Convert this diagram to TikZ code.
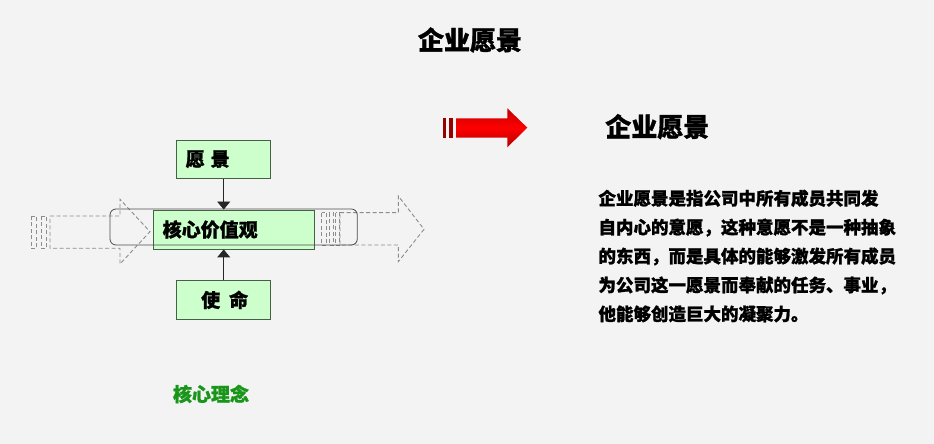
\documentclass[tikz,border=0pt]{standalone}
\usepackage{fontspec}
\setmainfont{Noto Sans CJK SC}[BoldFeatures={FakeBold=1.2}]
\usetikzlibrary{arrows.meta}
\definecolor{bgc}{RGB}{243,243,243}
\definecolor{boxfill}{RGB}{204,255,204}
\definecolor{boxline}{RGB}{70,95,70}
\definecolor{dashc}{RGB}{140,140,140}
\definecolor{greentxt}{RGB}{25,150,25}
\definecolor{darkred}{RGB}{150,0,0}
\tikzset{
  greenbox/.style={draw=boxline, line width=0.9bp, fill=boxfill, inner sep=0pt, font=\fontsize{19bp}{22bp}\selectfont\bfseries},
  conn/.style={draw=black!85, line width=0.9bp, -{Triangle[width=13bp,length=8bp]}},
  dasharrow/.style={draw=dashc, line width=0.9bp, dash pattern=on 4bp off 2.5bp},
  txt/.style={inner sep=0pt, font=\bfseries}
}
\begin{document}
\begin{tikzpicture}[x=1bp,y=-1bp]
\useasboundingbox (0,0) rectangle (934,444);
\fill[bgc] (0,0) rectangle (934,444);

% title
\node[txt, font=\fontsize{26bp}{30bp}\selectfont\bfseries] (title) at (470,40) {企业愿景};

% dashed arrows
\draw[dasharrow] (50,216) -- (120,216) -- (120,199.3) -- (150,231.7) -- (120,264) -- (120,248.3) -- (50,248.3) -- cycle;
\draw[dasharrow] (31,216) rectangle (36.7,248.3);
\draw[dasharrow] (41,216) rectangle (46.7,248.3);
\draw[dasharrow] (340,212.7) -- (398.3,212.7) -- (398.3,196) -- (424,229.3) -- (398.3,261.7) -- (398.3,245) -- (340,245) -- cycle;
\draw[dasharrow] (321.7,212.7) rectangle (326.7,245);
\draw[dasharrow] (329.3,212.7) rectangle (333.3,245);
\draw[dasharrow] (335.5,212.7) rectangle (339.5,245);

% boxes
\node[greenbox, minimum width=94bp, minimum height=38.3bp, text width=76bp, align=left] (vision) at (223.7,159.2) {愿\hspace{6bp}景};
\node[greenbox, minimum width=160.7bp, minimum height=39bp, text width=142bp, align=left] (core) at (233.7,229.5) {核心价值观};
\node[greenbox, minimum width=94bp, minimum height=38.3bp] (mission) at (223.7,299.9) {\hspace{2bp}使\hspace{9bp}命};

% rounded frame on top
\draw[draw=black!70, line width=0.8bp, rounded corners=6bp] (110,209) rectangle (357.3,245);

% connectors
\draw[conn] (vision.south) -- (vision.south |- core.north);
\draw[conn] (mission.north) -- (mission.north |- core.south);

% bottom label
\node[txt, text=greentxt, font=\fontsize{19bp}{22bp}\selectfont\bfseries] (concept) at (211,394) {核心理念};

% red arrow
\fill[darkred] (443.3,118.3) rectangle (446.3,137.7);
\fill[darkred] (449.3,118.3) rectangle (453.3,137.7);
\shade[top color=red!75!black, bottom color=red!70!black, middle color=red] (456,118.3) -- (507.3,118.3) -- (507.3,108.3) -- (527.3,127.7) -- (507.3,147.3) -- (507.3,137.7) -- (456,137.7) -- cycle;

% right side text
\node[txt, font=\fontsize{26bp}{30bp}\selectfont\bfseries] (heading) at (657.3,126.7) {企业愿景};
\node[txt, anchor=north west, align=left, font=\fontsize{17.5bp}{28.9bp}\selectfont\bfseries] (para) at (598.3,189.5) {企业愿景是指公司中所有成员共同发\\自内心的意愿，这种意愿不是一种抽象\\的东西，而是具体的能够激发所有成员\\为公司这一愿景而奉献的任务、事业，\\他能够创造巨大的凝聚力。};
\end{tikzpicture}
\end{document}
